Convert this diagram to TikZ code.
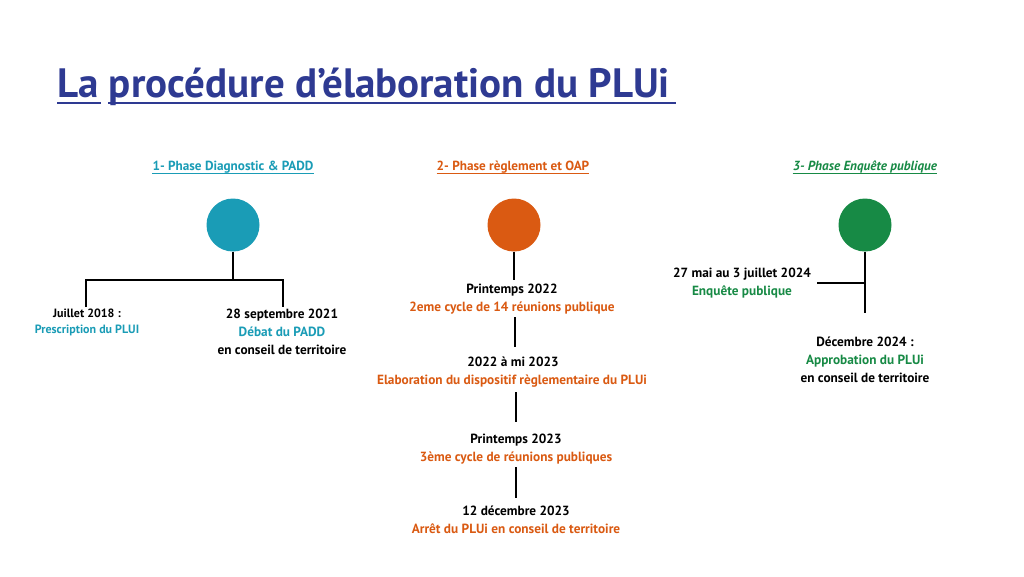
\documentclass[tikz,border=0pt]{standalone}
\usepackage{fontspec}
\setmainfont{PT Sans}
\usetikzlibrary{calc}
\definecolor{titleblue}{HTML}{2E3A92}
\definecolor{teal1}{HTML}{1A9CB6}
\definecolor{orange1}{HTML}{DA5A12}
\definecolor{green1}{HTML}{178A45}
\begin{document}
\begin{tikzpicture}[x=1pt,y=-1pt,
  txt/.style={inner sep=0pt, font=\bfseries\fontsize{13.3}{15}\selectfont, anchor=base},
  blk/.style={txt, text=black},
  sml/.style={txt, font=\bfseries\fontsize{12}{14}\selectfont},
  hdr/.style={inner sep=0pt, anchor=base, font=\bfseries\fontsize{13.2}{15}\selectfont},
  dot/.style={circle, minimum size=53pt, inner sep=0pt},
  conn/.style={line width=1.8pt, black},
  uline/.style={line width=0.9pt}]
\useasboundingbox (0,0) rectangle (1024,576);
\fill[white] (0,0) rectangle (1024,576);
% title
\node[inner sep=0pt, anchor=base west, text=titleblue, font=\bfseries\fontsize{41}{44}\selectfont] (title) at (57,97) {La procédure d’élaboration du PLUi};
\draw[titleblue, line width=2.6pt] (57,103) -- (101,103);
\draw[titleblue, line width=2.6pt] (108,103) -- (676,103);
% headers
\node[hdr, text=teal1] (h1) at (233,170) {1- Phase Diagnostic \& PADD};
\draw[teal1, uline] ($(h1.base west)+(0,3)$) -- ($(h1.base east)+(0,3)$);
\node[hdr, text=orange1] (h2) at (513,170) {2- Phase règlement et OAP};
\draw[orange1, uline] ($(h2.base west)+(0,3)$) -- ($(h2.base east)+(0,3)$);
\node[hdr, text=green1, font=\bfseries\itshape\fontsize{13.2}{15}\selectfont] (h3) at (865,170) {3- Phase Enquête publique};
\draw[green1, uline] ($(h3.base west)+(0,3)$) -- ($(h3.base east)+(0,3)$);
% circles
\node[dot, fill=teal1] (c1) at (233,225) {};
\node[dot, fill=orange1] (c2) at (514,225) {};
\node[dot, fill=green1] (c3) at (865,225) {};
% phase 1
\coordinate (j1) at (233,280);
\coordinate (l1) at (86,280);
\coordinate (r1) at (283,280);
\coordinate (l1e) at (86,307);
\coordinate (r1e) at (283,307);
\draw[conn] (c1.south) -- (j1);
\draw[conn] (l1e) -- (l1) -- (r1) -- (r1e);
\node[sml, text=black] (a1) at (87,317) {Juillet 2018 :};
\node[sml, text=teal1] (a2) at (87,333) {Prescription du PLUI};
\node[blk] (b1) at (282,318) {28 septembre 2021};
\node[txt, text=teal1] (b2) at (282,336) {Débat du PADD};
\node[blk] (b3) at (282,354) {en conseil de territoire};
% phase 2
\node[blk] (p1) at (512,293) {Printemps 2022};
\node[txt, text=orange1] (p2) at (512,311) {2eme cycle de 14 réunions publique};
\node[blk] (p3) at (513,366) {2022 à mi 2023};
\node[txt, text=orange1] (p4) at (512,384) {Elaboration du dispositif règlementaire du PLUi};
\node[blk] (p5) at (516,443) {Printemps 2023};
\node[txt, text=orange1] (p6) at (516,461) {3ème cycle de réunions publiques};
\node[blk] (p7) at (516,515) {12 décembre 2023};
\node[txt, text=orange1] (p8) at (516,533) {Arrêt du PLUi en conseil de territoire};
\coordinate (q0) at (514,280);
\coordinate (q1) at (515,317);
\coordinate (q2) at (515,347);
\coordinate (q3) at (516,392);
\coordinate (q4) at (516,422);
\coordinate (q5) at (516,467);
\coordinate (q6) at (516,498);
\draw[conn] (c2.south) -- (q0);
\draw[conn] (q1) -- (q2);
\draw[conn] (q3) -- (q4);
\draw[conn] (q5) -- (q6);
% phase 3
\coordinate (g1) at (865,313);
\coordinate (g2) at (865,283);
\coordinate (g3) at (817,283);
\draw[conn] (c3.south) -- (g1);
\draw[conn] (g3) -- (g2);
\node[blk] (e1) at (742,277) {27 mai au 3 juillet 2024};
\node[txt, text=green1] (e2) at (742,295) {Enquête publique};
\node[blk] (d1) at (865,346) {Décembre 2024 :};
\node[txt, text=green1] (d2) at (865,364) {Approbation du PLUi};
\node[blk] (d3) at (865,382) {en conseil de territoire};
\end{tikzpicture}
\end{document}
